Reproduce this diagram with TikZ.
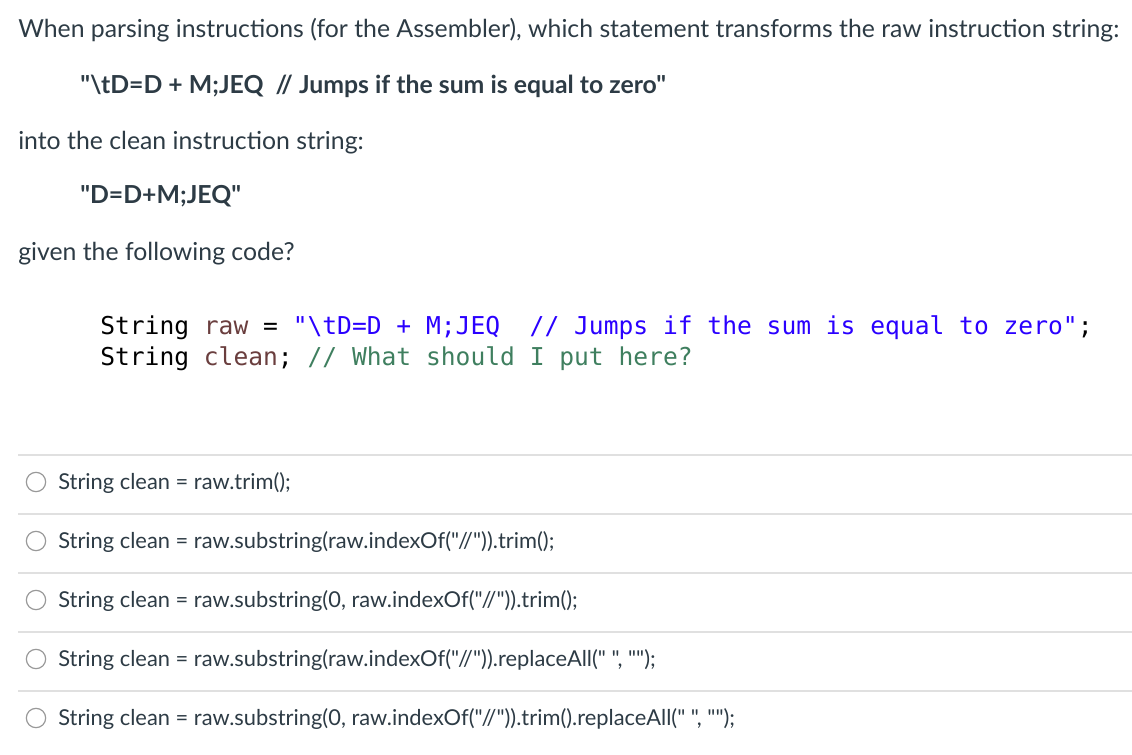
\documentclass[tikz,border=0pt]{standalone}
\usepackage{fontspec}
\setmainfont{Lato}[Ligatures=TeXOff]
\setmonofont{DejaVu Sans Mono}
\definecolor{txt}{HTML}{2D3B45}
\definecolor{strc}{HTML}{2A00FF}
\definecolor{varc}{HTML}{6A3E3E}
\definecolor{comc}{HTML}{3F7F5F}
\definecolor{sep}{HTML}{E0E0E0}
\newcommand{\qq}{\symbol{34}}
\begin{document}
\begin{tikzpicture}[x=0.75pt,y=-0.75pt,
  t/.style={anchor=west,inner sep=0pt,text=txt,font=\fontsize{18.6}{22}\selectfont},
  tb/.style={anchor=west,inner sep=0pt,text=txt,font=\bfseries\fontsize{18.6}{22}\selectfont},
  o/.style={anchor=west,inner sep=0pt,text=txt,font=\fontsize{16.4}{20}\selectfont},
  cd/.style={anchor=west,inner sep=0pt,font=\ttfamily\fontsize{18.45}{22}\selectfont},
  rad/.style={draw=gray!80,line width=0.9pt}]
\useasboundingbox[fill=white] (0,0) rectangle (1132,755);
\node[t] (q1) at (18,30) {When parsing instructions (for the Assembler), which statement transforms the raw instruction string:};
\node[tb] (q2) at (80,86) {\qq\textbackslash tD=D + M;JEQ \ // Jumps if the sum is equal to zero\qq};
\node[t] (q3) at (18,143) {into the clean instruction string:};
\node[tb] (q4) at (80,196) {\qq D=D+M;JEQ\qq};
\node[t] (q5) at (18,254) {given the following code?};
\node[cd] (c1) at (100,328) {String \textcolor{varc}{raw} = \textcolor{strc}{"\textbackslash tD=D + M;JEQ \ // Jumps if the sum is equal to zero"};};
\node[cd] (c2) at (100,359) {String \textcolor{varc}{clean}; \textcolor{comc}{// What should I put here?}};
\foreach \y/\s [count=\i] in {482/{String clean = raw.trim();},
  541/{String clean = raw.substring(raw.indexOf(\qq//\qq)).trim();},
  600/{String clean = raw.substring(0, raw.indexOf(\qq//\qq)).trim();},
  659/{String clean = raw.substring(raw.indexOf(\qq//\qq)).replaceAll(\qq\ \qq, \qq\qq);},
  718/{String clean = raw.substring(0, raw.indexOf(\qq//\qq)).trim().replaceAll(\qq\ \qq, \qq\qq);}}{
  \draw[sep,line width=0.8pt] (18,\y-27) -- (1132,\y-27);
  \node[rad,circle,minimum size=14.5pt,inner sep=0pt] (r\i) at (36,\y) {};
  \node[o] (a\i) at (58,\y+1) {\s};
}
\end{tikzpicture}
\end{document}
